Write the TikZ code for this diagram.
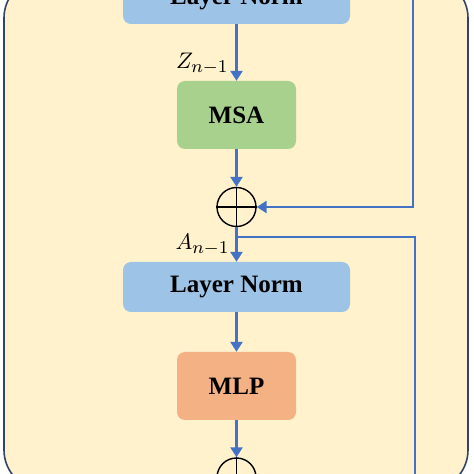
\documentclass[tikz,border=0pt]{standalone}
\usepackage{fontspec}
\setmainfont{Liberation Serif}
\usetikzlibrary{arrows.meta}
\DeclareMathSizes{10}{10}{8}{6}
\definecolor{paper}{HTML}{FFF2CC}
\definecolor{frame}{HTML}{34436A}
\definecolor{normblue}{HTML}{9DC3E6}
\definecolor{msagreen}{HTML}{A9D18E}
\definecolor{mlporange}{HTML}{F4B183}
\definecolor{flow}{HTML}{4472C4}

\begin{document}
\begin{tikzpicture}[x=1pt,y=1pt,
  block/.style={rounded corners=8pt,inner sep=0pt,
    font=\fontsize{25}{30}\selectfont\bfseries},
  normbox/.style={block,fill=normblue,minimum width=227pt,minimum height=50pt},
  opbox/.style={block,minimum width=119pt,minimum height=68pt},
  addop/.style={circle,draw=black,line width=1.4pt,minimum size=39pt,inner sep=0pt},
  link/.style={flow,line width=2.8pt},
  arr/.style={link,-{Triangle[length=10pt,width=12pt]}},
  lbl/.style={scale=2.25,transform shape,inner sep=0pt}]
  \clip (0,0) rectangle (474,474);
  \fill[white] (0,0) rectangle (474,474);
  \draw[frame,fill=paper,line width=1.6pt,rounded corners=40pt] (4,-16) rectangle (468,496);
  % blocks
  \node[normbox] (ln1) at (236.5,475) {Layer Norm};
  \node[opbox,fill=msagreen] (msa) at (236.5,359) {MSA};
  \node[addop] (add1) at (236.5,267) {};
  \node[normbox] (ln2) at (236.5,187) {Layer Norm};
  \node[opbox,fill=mlporange] (mlp) at (236.5,88) {MLP};
  \node[addop] (add2) at (236.5,-3.5) {};
  \foreach \a in {add1,add2}{
    \draw[line width=1.2pt] (\a.north) -- (\a.south) (\a.west) -- (\a.east);
  }
  % main path
  \draw[arr] (ln1) -- (msa);
  \draw[arr] (msa) -- (add1);
  \draw[arr] (add1) -- (ln2);
  \draw[arr] (ln2) -- (mlp);
  \draw[arr] (mlp) -- (add2);
  % residual paths
  \coordinate (skipin) at (413,480);
  \coordinate (branch) at (236.5,237);
  \coordinate (skipout) at (415,-10);
  \draw[arr] (skipin) |- (add1);
  \draw[link] (branch) -| (skipout);
  % labels
  \node[lbl,anchor=east] (zlab) at (229,410) {$Z_{n-1}$};
  \node[lbl,anchor=east] (alab) at (230,229) {$A_{n-1}$};
\end{tikzpicture}
\end{document}
